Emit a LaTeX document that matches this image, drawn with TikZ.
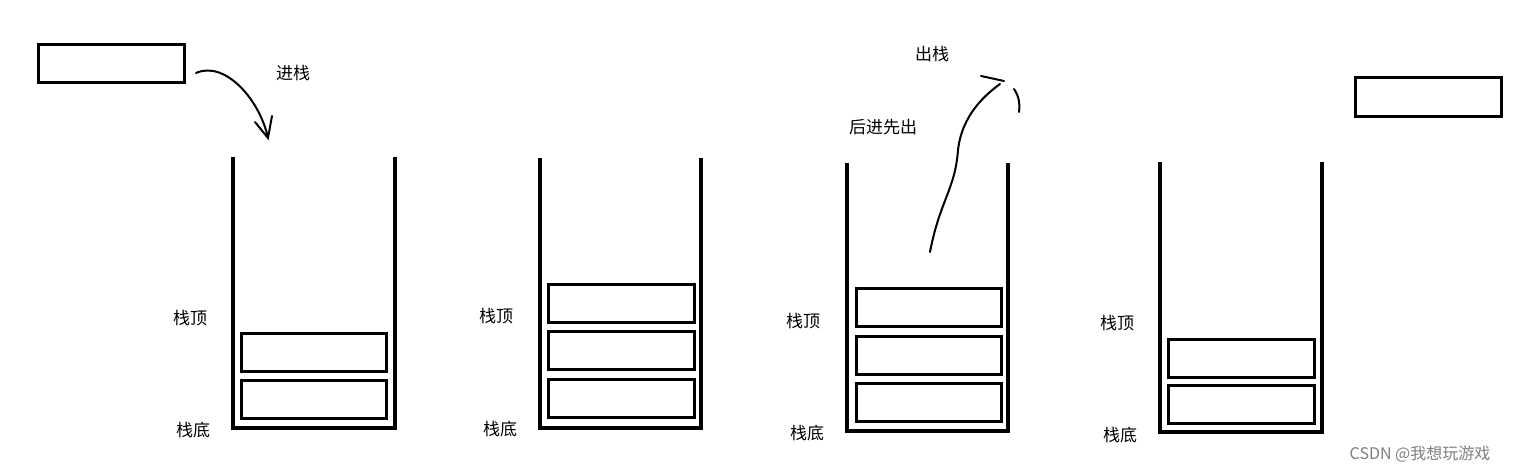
\documentclass[tikz,border=0pt]{standalone}
\usepackage{fontspec}
\newfontfamily\cjk{Noto Sans CJK SC}
\begin{document}
\begin{tikzpicture}[x=1pt,y=-1pt,
wall/.style={line width=3.5pt,line join=miter},
bx/.style={draw,line width=3pt},
lbl/.style={font=\cjk\fontsize{17}{17}\selectfont},
pen/.style={line width=2pt,line cap=round}]
\useasboundingbox[fill=white] (0,0) rectangle (1522,473);
\draw[wall] (233,157) -- (233,428) -- (395,428) -- (395,157);
\node[bx,minimum width=145pt,minimum height=38pt] (a1) at (313.5,352) {};
\node[bx,minimum width=145pt,minimum height=38pt] (a2) at (313.5,399) {};
\draw[wall] (540,158) -- (540,428) -- (701,428) -- (701,158);
\node[bx,minimum width=146pt,minimum height=38pt] (b1) at (621,303) {};
\node[bx,minimum width=146pt,minimum height=38pt] (b2) at (621,350.5) {};
\node[bx,minimum width=146pt,minimum height=38pt] (b3) at (621,398.5) {};
\draw[wall] (847,163) -- (847,431) -- (1008,431) -- (1008,163);
\node[bx,minimum width=145pt,minimum height=38pt] (c1) at (928.5,307) {};
\node[bx,minimum width=145pt,minimum height=38pt] (c2) at (928.5,355) {};
\node[bx,minimum width=145pt,minimum height=38pt] (c3) at (928.5,402) {};
\draw[wall] (1160,162) -- (1160,432) -- (1322,432) -- (1322,162);
\node[bx,minimum width=146pt,minimum height=38pt] (d1) at (1241,358) {};
\node[bx,minimum width=146pt,minimum height=38pt] (d2) at (1241,404) {};
\node[bx,minimum width=146pt,minimum height=38pt] (e1) at (111,64) {};
\node[bx,minimum width=146pt,minimum height=39pt] (e2) at (1428,97.5) {};
\node[lbl] (t1) at (190,318) {栈顶};
\node[lbl] (u1) at (193,430) {栈底};
\node[lbl] (t2) at (496,316) {栈顶};
\node[lbl] (u2) at (500,429) {栈底};
\node[lbl] (t3) at (803,321) {栈顶};
\node[lbl] (u3) at (807,433) {栈底};
\node[lbl] (t4) at (1117,323) {栈顶};
\node[lbl] (u4) at (1120,435) {栈底};
\node[lbl] (in) at (293,73) {进栈};
\node[lbl] (out) at (932,54) {出栈};
\node[lbl] (lifo) at (883,127) {后进先出};
\node[font=\cjk\fontsize{16}{16}\selectfont,text=gray] (wm) at (1420,454) {CSDN @我想玩游戏};
\coordinate (p1) at (196,73);
\coordinate (p2) at (268,138);
\draw[pen] (p1) .. controls (225,60) and (260,100) .. (p2);
\draw[pen] (255,122) -- (p2) -- (272,116);
\coordinate (q1) at (930,252);
\coordinate (q2) at (1000,84);
\draw[pen] (q1) .. controls (940,200) and (955,190) .. (958,150) .. controls (962,115) and (985,95) .. (q2);
\draw[pen] (981,76) -- (1004,81);
\draw[pen] (1014,89) .. controls (1019,96) and (1020,104) .. (1019,112);
\end{tikzpicture}
\end{document}
